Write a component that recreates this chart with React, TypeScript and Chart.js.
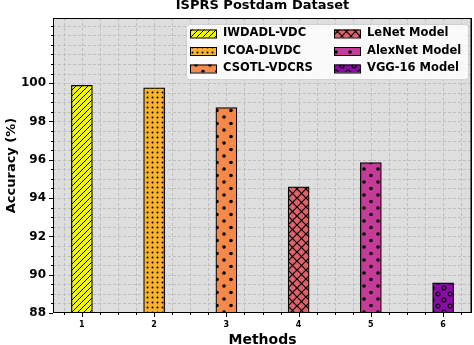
import React, { useEffect, useRef } from 'react';
import { Chart, registerables } from 'chart.js';
Chart.register(...registerables);

const methods = [1, 2, 3, 4, 5, 6];
const accuracy = [99.88, 99.75, 98.72, 94.58, 95.85, 89.57];
const names = ['IWDADL-VDC', 'ICOA-DLVDC', 'CSOTL-VDCRS', 'LeNet Model', 'AlexNet Model', 'VGG-16 Model'];
const colors = ['#f2f220', '#fbb22f', '#f58949', '#e0616a', '#c53c98', '#8a0ba6'];
const hatches = ['diag', 'smalldots', 'bigdots', 'cross', 'bigdots', 'circles'];
const yTicks = [88, 90, 92, 94, 96, 98, 100];
const title = 'ISPRS Postdam Dataset';
const xTitle = 'Methods';
const yTitle = 'Accuracy (%)';

const FONT = '"DejaVu Sans", sans-serif';

function makePattern(kind: string, color: string): CanvasPattern | string {
  const c = document.createElement('canvas');
  let w = 6, h = 6;
  if (kind === 'diag') { w = 6; h = 6; }
  else if (kind === 'smalldots') { w = 5; h = 5; }
  else if (kind === 'bigdots') { w = 14; h = 13; }
  else if (kind === 'cross') { w = 9; h = 9; }
  else if (kind === 'circles') { w = 12; h = 12; }
  c.width = w; c.height = h;
  const g = c.getContext('2d')!;
  g.fillStyle = color;
  g.fillRect(0, 0, w, h);
  g.strokeStyle = '#000';
  g.fillStyle = '#000';
  if (kind === 'diag') {
    g.lineWidth = 1;
    for (const o of [-w, 0, w]) {
      g.beginPath(); g.moveTo(o, h); g.lineTo(o + w, 0); g.stroke();
    }
  } else if (kind === 'smalldots') {
    g.beginPath(); g.arc(2.5, 2.5, 1, 0, Math.PI * 2); g.fill();
  } else if (kind === 'bigdots') {
    const pts = [[0, 0], [w, 0], [0, h], [w, h], [w / 2, h / 2]];
    for (const [x, y] of pts) { g.beginPath(); g.arc(x, y, 1.8, 0, Math.PI * 2); g.fill(); }
  } else if (kind === 'cross') {
    g.lineWidth = 1.2;
    g.beginPath(); g.moveTo(0, 0); g.lineTo(w, h); g.stroke();
    g.beginPath(); g.moveTo(0, h); g.lineTo(w, 0); g.stroke();
  } else if (kind === 'circles') {
    g.lineWidth = 1.2;
    const pts = [[0, 0], [w, 0], [0, h], [w, h], [w / 2, h / 2]];
    for (const [x, y] of pts) { g.beginPath(); g.arc(x, y, 2, 0, Math.PI * 2); g.stroke(); }
  }
  return g.createPattern(c, 'repeat') || color;
}

export default function App() {
  const ref = useRef<HTMLCanvasElement>(null);
  useEffect(() => {
    document.body.style.margin = '0';
    const patterns = hatches.map((k, i) => makePattern(k, colors[i]));

    const decor = {
      id: 'decor',
      beforeDatasetsDraw(chart: any) {
        const { ctx, chartArea: a, scales } = chart;
        const xs = scales.x, ys = scales.y;
        ctx.save();
        ctx.fillStyle = '#dedede';
        ctx.fillRect(a.left, a.top, a.right - a.left, a.bottom - a.top);
        ctx.strokeStyle = '#b8b8b8';
        ctx.lineWidth = 0.8;
        ctx.setLineDash([3, 2]);
        for (let v = 88.5; v < ys.max; v += 0.5) {
          const y = Math.round(ys.getPixelForValue(v)) + 0.5;
          ctx.beginPath(); ctx.moveTo(a.left, y); ctx.lineTo(a.right, y); ctx.stroke();
        }
        for (let v = 0.75; v < xs.max; v += 0.25) {
          const x = Math.round(xs.getPixelForValue(v)) + 0.5;
          ctx.beginPath(); ctx.moveTo(x, a.top); ctx.lineTo(x, a.bottom); ctx.stroke();
        }
        ctx.restore();
      },
      afterDraw(chart: any) {
        const { ctx, chartArea: a, scales } = chart;
        const xs = scales.x, ys = scales.y;
        ctx.save();
        // frame
        ctx.strokeStyle = '#000';
        ctx.lineWidth = 1;
        ctx.strokeRect(a.left + 0.5, a.top + 0.5, a.right - a.left - 1, a.bottom - a.top - 1);
        ctx.lineWidth = 1.5;
        ctx.beginPath(); ctx.moveTo(a.right - 0.75, a.top); ctx.lineTo(a.right - 0.75, a.bottom); ctx.stroke();
        // tick marks
        ctx.lineWidth = 1;
        for (let v = 88; v < ys.max; v += 0.5) {
          const y = Math.round(ys.getPixelForValue(v)) + 0.5;
          const major = yTicks.includes(v);
          ctx.beginPath(); ctx.moveTo(a.left - (major ? 4 : 2), y); ctx.lineTo(a.left, y); ctx.stroke();
        }
        for (let v = 0.75; v < xs.max; v += 0.25) {
          const x = Math.round(xs.getPixelForValue(v)) + 0.5;
          const major = methods.includes(v);
          ctx.beginPath(); ctx.moveTo(x, a.bottom); ctx.lineTo(x, a.bottom + (major ? 4 : 2)); ctx.stroke();
        }
        // titles
        ctx.fillStyle = '#000';
        ctx.textAlign = 'center';
        ctx.textBaseline = 'middle';
        const cx = (a.left + a.right) / 2;
        ctx.font = `bold 13px ${FONT}`;
        ctx.fillText(title, cx, 6);
        ctx.font = `bold 14px ${FONT}`;
        ctx.fillText(xTitle, cx, 340);
        ctx.save();
        ctx.translate(12, (a.top + a.bottom) / 2);
        ctx.rotate(-Math.PI / 2);
        ctx.font = `bold 13px ${FONT}`;
        ctx.fillText(yTitle, 0, 0);
        ctx.restore();
        // legend
        const lx = 186, ly = 24, lw = 282, lh = 55;
        ctx.fillStyle = 'rgba(255,255,255,0.85)';
        ctx.strokeStyle = '#d0d0d0';
        ctx.lineWidth = 1;
        ctx.beginPath();
        ctx.roundRect(lx + 0.5, ly + 0.5, lw, lh, 3);
        ctx.fill(); ctx.stroke();
        ctx.font = `bold 11.5px ${FONT}`;
        ctx.textAlign = 'left';
        ctx.textBaseline = 'middle';
        for (let i = 0; i < names.length; i++) {
          const col = Math.floor(i / 3), row = i % 3;
          const sx = col === 0 ? 190 : 334;
          const ty = 33.5 + row * 17.5;
          ctx.fillStyle = patterns[i] as any;
          ctx.fillRect(sx, ty - 4, 26, 8);
          ctx.strokeStyle = '#000';
          ctx.lineWidth = 1;
          ctx.strokeRect(sx + 0.5, ty - 4 + 0.5, 26, 8);
          ctx.fillStyle = '#000';
          ctx.fillText(names[i], sx + 33, ty);
        }
        ctx.restore();
      },
    };

    const chart = new Chart(ref.current!, {
      type: 'bar',
      data: {
        datasets: [{
          data: methods.map((m, i) => ({ x: m, y: accuracy[i] })),
          backgroundColor: patterns as any,
          borderColor: '#000',
          borderWidth: 1.2,
          borderSkipped: 'start',
          barThickness: 21,
        } as any],
      },
      options: {
        animation: false,
        responsive: true,
        maintainAspectRatio: false,
        layout: { padding: { top: 18, right: 2, left: 0, bottom: 0 } },
        plugins: { legend: { display: false }, tooltip: { enabled: false }, title: { display: false } },
        scales: {
          x: {
            type: 'linear',
            offset: false,
            min: 0.6,
            max: 6.4,
            afterBuildTicks: (s: any) => { s.ticks = methods.map((v) => ({ value: v })); },
            afterFit: (s: any) => { s.height = 32; },
            grid: { display: false, drawTicks: false, offset: false },
            border: { display: false },
            ticks: { color: '#000', font: { family: FONT, size: 8, weight: 'bold' }, padding: 7, maxRotation: 0, callback: (v: any) => String(v) },
          },
          y: {
            type: 'linear',
            min: 88,
            max: 103.4,
            afterBuildTicks: (s: any) => { s.ticks = yTicks.map((v) => ({ value: v })); },
            afterFit: (s: any) => { s.width = 53; },
            grid: { display: false, drawTicks: false },
            border: { display: false },
            ticks: { color: '#000', font: { family: FONT, size: 12, weight: 'bold' }, padding: 7, callback: (v: any) => String(v) },
          },
        },
      },
      plugins: [decor],
    });
    return () => chart.destroy();
  }, []);
  return (
    <div style={{ width: 474, height: 345, position: 'relative' }}>
      <canvas ref={ref} />
    </div>
  );
}
